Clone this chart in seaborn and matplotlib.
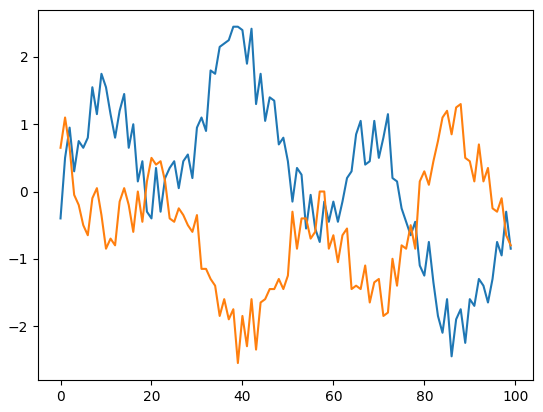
import matplotlib
matplotlib.use("Agg")
import matplotlib.pyplot as plt
import seaborn as sns
import numpy as np

x = list(range(100))
blue = [-0.4,0.5,0.95,0.3,0.75,0.65,0.8,1.55,1.15,1.75,1.55,1.15,0.8,1.2,1.45,0.65,1.0,0.15,0.45,-0.3,
        -0.4,0.35,-0.3,0.2,0.35,0.45,0.05,0.45,0.55,0.2,0.95,1.1,0.9,1.8,1.75,2.15,2.2,2.25,2.45,2.45,
        2.4,1.9,2.42,1.3,1.75,1.05,1.4,1.35,0.7,0.8,0.45,-0.15,0.35,0.25,-0.55,-0.05,-0.55,-0.75,-0.15,-0.45,
        -0.15,-0.45,-0.15,0.2,0.3,0.85,1.05,0.4,0.45,1.05,0.5,0.8,1.15,0.2,0.15,-0.25,-0.45,-0.65,-0.45,-1.1,
        -1.25,-0.75,-1.35,-1.85,-2.1,-1.6,-2.45,-1.9,-1.75,-2.25,-1.6,-1.7,-1.3,-1.4,-1.65,-1.3,-0.75,-0.95,-0.3,-0.85]
orange = [0.65,1.1,0.65,-0.05,-0.2,-0.5,-0.65,-0.1,0.05,-0.35,-0.85,-0.7,-0.8,-0.15,0.05,-0.2,-0.6,0.0,-0.45,0.15,
          0.5,0.4,0.45,0.15,-0.4,-0.45,-0.25,-0.35,-0.5,-0.6,-0.35,-1.15,-1.15,-1.3,-1.4,-1.85,-1.6,-1.9,-1.75,-2.55,
          -1.85,-2.3,-1.6,-2.35,-1.65,-1.6,-1.45,-1.45,-1.3,-1.45,-1.25,-0.3,-0.85,-0.4,-0.4,-0.7,-0.6,0.0,0.0,-0.85,
          -0.65,-1.05,-0.65,-0.55,-1.45,-1.4,-1.45,-1.1,-1.65,-1.35,-1.3,-1.85,-1.8,-1.0,-1.4,-0.8,-0.85,-0.5,-0.85,0.15,
          0.3,0.1,0.45,0.75,1.1,1.2,0.85,1.25,1.3,0.5,0.45,0.15,0.7,0.15,0.35,-0.25,-0.3,-0.1,-0.65,-0.8]

fig, ax = plt.subplots(figsize=(5.43, 4.12), dpi=100)
fig.subplots_adjust(left=0.07, right=0.982, top=0.976, bottom=0.078)
sns.lineplot(x=x, y=blue, ax=ax, color="#1f77b4")
sns.lineplot(x=x, y=orange, ax=ax, color="#ff7f0e")
ax.set_yticks([-2, -1, 0, 1, 2])
fig.savefig("out.png")
